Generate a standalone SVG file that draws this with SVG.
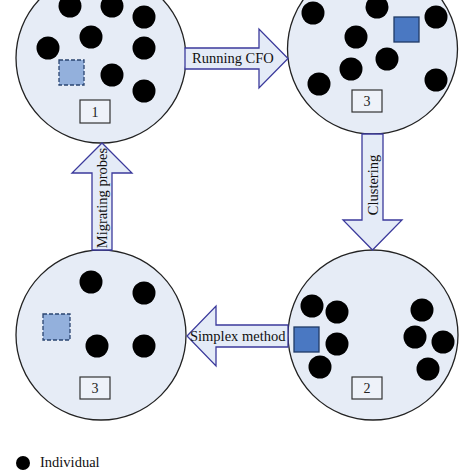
<svg xmlns="http://www.w3.org/2000/svg" width="474" height="474" viewBox="0 0 474 474">
<style>
.pool{fill:#e6ecf6;stroke:#222;stroke-width:1.3}
.dot{fill:#000}
.lbl{fill:#eef2f9;stroke:#333;stroke-width:1.2}
.num{font-family:"Liberation Serif","DejaVu Serif",serif;font-size:14px;fill:#222;text-anchor:middle}
.arrow{fill:#e4ebf7;stroke:#3b3a9c;stroke-width:1.3;stroke-linejoin:miter}
.atxt{font-family:"Liberation Serif","DejaVu Serif",serif;font-size:14.5px;fill:#111}
.probe{fill:#4a78c2;stroke:#1f3a66;stroke-width:1.3}
.ghost{fill:#93b0dc;stroke:#2a4470;stroke-width:1.3;stroke-dasharray:4 2}
</style>
<rect width="474" height="474" fill="#fff"/>
<g id="pool1">
<circle class="pool" cx="101" cy="58" r="85"/>
<circle class="dot" cx="70" cy="6" r="11.5"/>
<circle class="dot" cx="112" cy="6" r="11.5"/>
<circle class="dot" cx="144" cy="17" r="11.5"/>
<circle class="dot" cx="91" cy="37" r="11.5"/>
<circle class="dot" cx="48" cy="48" r="11.5"/>
<circle class="dot" cx="144" cy="48" r="11.5"/>
<circle class="dot" cx="112" cy="75" r="11.5"/>
<circle class="dot" cx="144" cy="91" r="11.5"/>
<rect class="ghost" x="59" y="60" width="25" height="25"/>
<rect class="lbl" x="80" y="100" width="30" height="23"/>
<text class="num" x="95" y="116.5">1</text>
</g>
<g id="pool3top">
<circle class="pool" cx="372.5" cy="49" r="85"/>
<circle class="dot" cx="313" cy="13" r="11.5"/>
<circle class="dot" cx="377" cy="7" r="11.5"/>
<circle class="dot" cx="436" cy="17" r="11.5"/>
<circle class="dot" cx="356" cy="37" r="11.5"/>
<circle class="dot" cx="387" cy="59" r="11.5"/>
<circle class="dot" cx="351" cy="69" r="11.5"/>
<circle class="dot" cx="319" cy="84" r="11.5"/>
<circle class="dot" cx="436" cy="80" r="11.5"/>
<rect class="probe" x="394" y="17" width="25" height="25"/>
<rect class="lbl" x="352" y="90" width="30" height="22"/>
<text class="num" x="367" y="106">3</text>
</g>
<g id="pool2">
<circle class="pool" cx="373" cy="335" r="85"/>
<circle class="dot" cx="312" cy="306" r="11.5"/>
<circle class="dot" cx="337" cy="312" r="11.5"/>
<circle class="dot" cx="337" cy="344" r="11.5"/>
<circle class="dot" cx="320" cy="367" r="11.5"/>
<circle class="dot" cx="422" cy="310" r="11.5"/>
<circle class="dot" cx="415" cy="337" r="11.5"/>
<circle class="dot" cx="443" cy="342" r="11.5"/>
<circle class="dot" cx="428" cy="369" r="11.5"/>
<rect class="probe" x="294" y="327" width="25" height="25"/>
<rect class="lbl" x="352" y="377" width="30" height="22"/>
<text class="num" x="367" y="393">2</text>
</g>
<g id="pool3bottom">
<circle class="pool" cx="101" cy="335" r="85"/>
<circle class="dot" cx="91" cy="282" r="11.5"/>
<circle class="dot" cx="144" cy="293" r="11.5"/>
<circle class="dot" cx="97" cy="346" r="11.5"/>
<circle class="dot" cx="144" cy="346" r="11.5"/>
<rect class="ghost" x="43" y="314" width="27" height="26"/>
<rect class="lbl" x="80" y="377" width="30" height="22"/>
<text class="num" x="95" y="393">3</text>
</g>
<g id="connectors">
<path class="arrow" d="M185,48 L259,48 L259,29 L288,58.5 L259,88 L259,69 L185,69 Z"/>
<text class="atxt" x="192" y="63">Running CFO</text>
<path class="arrow" d="M362,134 L362,220 L343,220 L372.5,250 L402,220 L383,220 L383,134 Z"/>
<text class="atxt" transform="translate(378,185) rotate(-90)" text-anchor="middle">Clustering</text>
<path class="arrow" d="M288,325 L216,325 L216,306 L187,336 L216,366 L216,347 L288,347 Z"/>
<text class="atxt" x="190" y="341">Simplex method</text>
<path class="arrow" d="M92,250 L92,173 L72,173 L102,143 L132,173 L112,173 L112,250 Z"/>
<text class="atxt" transform="translate(107,198) rotate(-90)" text-anchor="middle">Migrating probes</text>
</g>
<g id="legend">
<circle class="dot" cx="23" cy="463" r="7"/>
<text class="atxt" x="40" y="467">Individual</text>
</g>
</svg>
